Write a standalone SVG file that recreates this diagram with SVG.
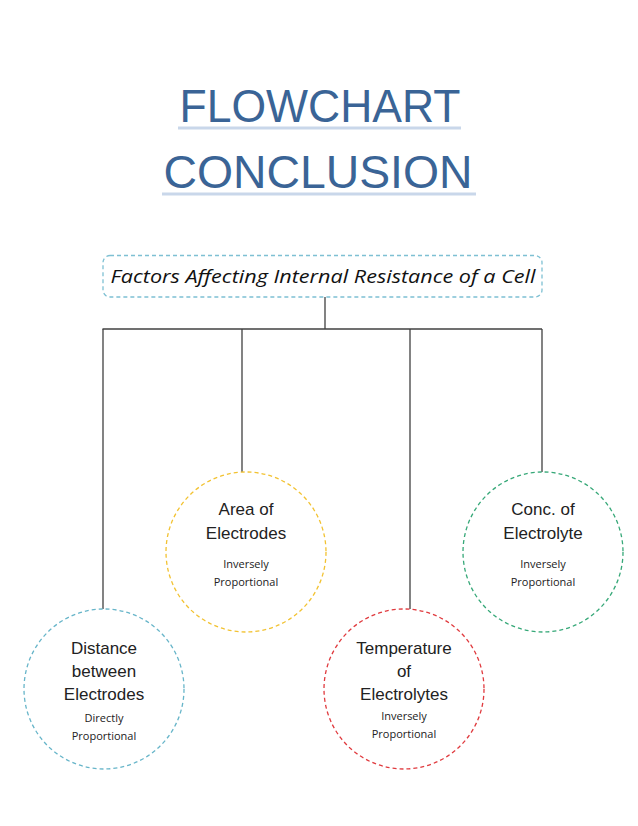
<svg xmlns="http://www.w3.org/2000/svg" width="638" height="826" viewBox="0 0 638 826">
<style>
.title{font-family:"Liberation Sans","DejaVu Sans",sans-serif;font-size:47px;fill:#3A6496;text-anchor:middle}
.uline{stroke:#C9D7EA;stroke-width:3}
.hdr{font-family:"Open Sans","Liberation Sans",sans-serif;font-style:italic;font-size:19px;fill:#111;text-anchor:middle}
.big{font-family:"Liberation Sans","DejaVu Sans",sans-serif;font-size:17px;fill:#222;text-anchor:middle}
.small{font-family:"Open Sans","Liberation Sans",sans-serif;font-size:11px;fill:#222;text-anchor:middle}
.conn{stroke:#404040;stroke-width:1.3;fill:none}
.circ{fill:#fff;stroke-width:1.3;stroke-dasharray:4 3}
</style>
<rect width="638" height="826" fill="#fff"/>
<g id="title">
<text class="title" x="320" y="122" textLength="281" lengthAdjust="spacingAndGlyphs">FLOWCHART</text>
<line class="uline" x1="178" y1="128" x2="461" y2="128"/>
<text class="title" x="318" y="188" textLength="309" lengthAdjust="spacingAndGlyphs">CONCLUSION</text>
<line class="uline" x1="162" y1="194" x2="476" y2="194"/>
</g>
<g id="connectors">
<line class="conn" x1="325" y1="297" x2="325" y2="329"/>
<line class="conn" x1="102.5" y1="329" x2="542" y2="329"/>
<line class="conn" x1="103" y1="329" x2="103" y2="609"/>
<line class="conn" x1="242" y1="329" x2="242" y2="472"/>
<line class="conn" x1="410" y1="329" x2="410" y2="609"/>
<line class="conn" x1="542" y1="329" x2="542" y2="472"/>
</g>
<g id="header">
<rect x="103" y="255.5" width="439" height="41.5" rx="7" fill="#fff" stroke="#7EC0D3" stroke-width="1.3" stroke-dasharray="4 3"/>
<text class="hdr" x="323" y="283" textLength="425" lengthAdjust="spacingAndGlyphs">Factors Affecting Internal Resistance of a Cell</text>
</g>
<g id="area">
<circle class="circ" cx="246" cy="552" r="80" stroke="#F2C231"/>
<text class="big" x="246" y="515">Area of</text>
<text class="big" x="246" y="539">Electrodes</text>
<text class="small" x="246" y="568">Inversely</text>
<text class="small" x="246" y="586">Proportional</text>
</g>
<g id="conc">
<circle class="circ" cx="543" cy="552" r="80" stroke="#36A878"/>
<text class="big" x="543" y="515">Conc. of</text>
<text class="big" x="543" y="539">Electrolyte</text>
<text class="small" x="543" y="568">Inversely</text>
<text class="small" x="543" y="586">Proportional</text>
</g>
<g id="distance">
<circle class="circ" cx="104" cy="689" r="80" stroke="#67B5C9"/>
<text class="big" x="104" y="654">Distance</text>
<text class="big" x="104" y="677">between</text>
<text class="big" x="104" y="700">Electrodes</text>
<text class="small" x="104" y="722">Directly</text>
<text class="small" x="104" y="740">Proportional</text>
</g>
<g id="temperature">
<circle class="circ" cx="404" cy="689" r="80" stroke="#E03A3E"/>
<text class="big" x="404" y="654">Temperature</text>
<text class="big" x="404" y="677">of</text>
<text class="big" x="404" y="700">Electrolytes</text>
<text class="small" x="404" y="720">Inversely</text>
<text class="small" x="404" y="738">Proportional</text>
</g>
</svg>
